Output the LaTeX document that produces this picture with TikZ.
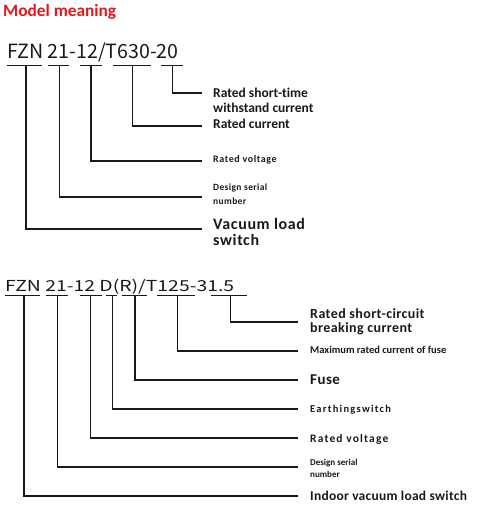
\documentclass[tikz,border=0pt]{standalone}
\usepackage{graphicx}
\usepackage{fontspec}
\setmainfont{Carlito}[Ligatures=NoCommon]
\newfontfamily\codefont{Noto Sans CJK SC}
\definecolor{titlered}{RGB}{226,24,28}
\definecolor{linec}{RGB}{25,25,25}
\newcommand{\mylab}[3]{{\fontsize{#1}{#2}\selectfont\bfseries\begin{tabular}[t]{@{}l@{}}#3\end{tabular}}}
\tikzset{
  conn/.style={draw=linec, line width=1.1pt},
  lab/.style={anchor=base west, inner sep=0pt, text=linec},
  code/.style={anchor=base west, inner sep=0pt, text=linec, font=\codefont\fontsize{19.6}{24}\selectfont},
}
\begin{document}
\begin{tikzpicture}[x=1pt,y=-1pt]
\useasboundingbox (0,0) rectangle (485,507);
\node[anchor=base west, inner sep=0pt, text=titlered] (title) at (3,16.7) {\fontsize{17.3}{20}\selectfont\bfseries Model meaning};

% ---------- top model code ----------
\node[code] (codeA) at (7,58.7) {FZN 21-12/T630-20};
\foreach \n/\xa/\xb/\xv/\yv in {1/7.3/41.7/26/229, 2/48.3/69.3/59.3/197, 3/80/101.7/91/161, 4/113.3/150.7/132.7/126, 5/161.3/182.7/172.7/93}{
  \coordinate (ta\n) at (\xa,65.3);
  \coordinate (tb\n) at (\xb,65.3);
  \coordinate (tv\n) at (\xv,65.3);
  \coordinate (te\n) at (202,\yv);
  \draw[conn] (ta\n) -- (tb\n);
  \draw[conn] (tv\n) |- (te\n);
}
\node[lab] (tl5) at (213,97) {\mylab{13.5}{15}{Rated short-time\\withstand current}};
\node[lab] (tl4) at (213,128.5) {\mylab{13.5}{15}{Rated current}};
\node[lab] (tl3) at (213,162.5) {\mylab{10}{12}{\addfontfeature{LetterSpace=6}Rated voltage}};
\node[lab] (tl2) at (213,190) {\mylab{9.5}{14}{\addfontfeature{LetterSpace=4}Design serial\\\addfontfeature{LetterSpace=4}number}};
\node[lab] (tl1) at (213,229.5) {\mylab{16}{14.5}{\addfontfeature{LetterSpace=4}Vacuum load\\\addfontfeature{LetterSpace=4}switch}};

% ---------- bottom model code ----------
\node[anchor=base west, inner sep=0pt, text=linec] (codeB) at (5,291.7) {\scalebox{1}[0.78]{\codefont\fontsize{19.4}{24}\selectfont FZN 21-12 D(R)/T125-31.5}};
\foreach \n/\xa/\xb/\xv/\yv in {1/5/40/24/496, 2/46/68.3/57.3/467, 3/80/101.7/90.7/438, 4/106/117.3/112.7/409, 5/121.7/146.7/135/380, 6/156.7/195/177.3/351, 7/210.7/247.3/230.7/322}{
  \coordinate (ba\n) at (\xa,295.7);
  \coordinate (bb\n) at (\xb,295.7);
  \coordinate (bv\n) at (\xv,295.7);
  \coordinate (be\n) at (298,\yv);
  \draw[conn] (ba\n) -- (bb\n);
  \draw[conn] (bv\n) |- (be\n);
}
\node[lab] (bl7) at (310,318.5) {\mylab{14}{13.5}{\addfontfeature{LetterSpace=3}Rated short-circuit\\\addfontfeature{LetterSpace=3}breaking current}};
\node[lab] (bl6) at (310,353) {\mylab{10.5}{12}{Maximum rated current of fuse}};
\node[lab] (bl5) at (310,384) {\mylab{15}{16}{\addfontfeature{LetterSpace=3}Fuse}};
\node[lab] (bl4) at (310,412.5) {\mylab{10.5}{12}{\addfontfeature{LetterSpace=12}Earthingswitch}};
\node[lab] (bl3) at (310,442) {\mylab{11.5}{13}{\addfontfeature{LetterSpace=10}Rated voltage}};
\node[lab] (bl2) at (310,465) {\mylab{9}{12}{Design serial\\number}};
\node[lab] (bl1) at (310,500) {\mylab{13.5}{15}{\addfontfeature{LetterSpace=2}Indoor vacuum load switch}};
\end{tikzpicture}
\end{document}
